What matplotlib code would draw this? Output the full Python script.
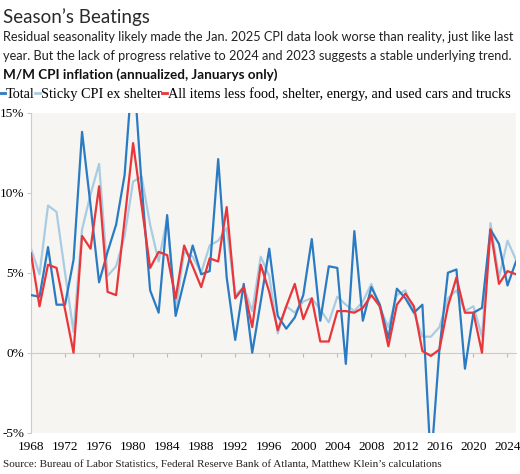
import numpy as np
import matplotlib
matplotlib.use('Agg')
import matplotlib.pyplot as plt

years = list(range(1968, 2026))

# M/M CPI, annualized, Januarys only
total = [3.6, 3.5, 6.6, 3.0, 3.0, 5.8, 13.8, 9.2, 4.4, 6.3,
         8.0, 11.1, 18.2, 10.5, 3.9, 2.5, 8.6, 2.3, 4.5, 6.7,
         4.9, 5.1, 12.1, 4.7, 0.8, 4.3, 0.0, 3.2, 6.5, 2.3,
         1.5, 2.2, 3.6, 7.1, 2.0, 5.4, 5.3, -0.7, 7.6, 2.0,
         4.1, 3.0, 0.9, 4.0, 3.4, 2.5, 3.0, -7.0, 0.2, 5.0,
         5.2, -1.0, 2.5, 2.8, 7.7, 6.8, 4.2, 5.7]
sticky = [6.5, 4.9, 9.2, 8.8, 5.0, 1.3, 7.7, 9.9, 11.8, 4.8,
          5.4, 7.3, 10.7, 11.0, 8.0, 5.7, 8.4, 2.7, 6.3, 6.0,
          5.0, 6.7, 7.0, 7.8, 3.6, 4.1, 2.6, 6.0, 4.8, 1.2,
          2.9, 2.5, 3.2, 3.4, 2.7, 1.9, 3.5, 3.0, 2.6, 3.2,
          4.3, 2.8, 1.6, 3.6, 3.9, 2.5, 1.0, 1.0, 1.6, 3.4,
          3.9, 2.6, 2.9, 1.0, 8.1, 4.7, 7.0, 5.8]
core_ex = [6.2, 2.9, 5.5, 5.3, 2.7, 0.0, 7.3, 6.5, 10.4, 3.8,
           3.6, 8.3, 13.1, 9.2, 5.3, 6.3, 6.1, 3.4, 6.7, 5.4,
           4.1, 5.9, 5.7, 9.1, 3.4, 4.1, 1.6, 5.5, 3.8, 1.4,
           2.9, 4.3, 2.1, 3.4, 0.7, 0.7, 2.6, 2.6, 2.5, 2.8,
           3.6, 2.9, 0.4, 3.0, 3.7, 2.9, 0.1, -0.2, 0.2, 2.9,
           4.7, 2.5, 2.5, 0.0, 7.7, 4.3, 5.1, 4.9]

labels = ['Total', 'Sticky CPI ex shelter',
          'All items less food, shelter, energy, and used cars and trucks']
colors = ['#2b7bc3', '#a9cce2', '#e8363b']

sans = ['Lato', 'DejaVu Sans']
serif = ['Liberation Serif', 'DejaVu Serif']

fig = plt.figure(figsize=(5.2, 4.74), dpi=100)
ax = fig.add_axes([31/520, 1-432.7/474, (516-31)/520, 320/474])
ax.set_facecolor('#f6f5f1')

ax.plot(years, sticky, color=colors[1], lw=1.6, zorder=3)
ax.plot(years, total, color=colors[0], lw=1.6, zorder=4)
ax.plot(years, core_ex, color=colors[2], lw=1.6, zorder=5)

ax.set_xlim(1968, 2025)
ax.set_ylim(-5, 15)

for s in ['top', 'right']:
    ax.spines[s].set_visible(False)
ax.spines['left'].set_color('#cccccc')
ax.spines['bottom'].set_color('#cccccc')
ax.spines['bottom'].set_position(('data', 0))
ax.spines['bottom'].set_zorder(2)

ax.set_yticks([-5, 0, 5, 10, 15])
ax.set_yticklabels(['-5%', '0%', '5%', '10%', '15%'], family=serif, fontsize=9.5)
ax.tick_params(axis='y', color='#cccccc', length=3, pad=2)

xt = list(range(1968, 2025, 4))
ax.set_xticks(xt)
ax.tick_params(axis='x', color='#bbbbbb', length=3, labelbottom=False)
sec = ax.secondary_xaxis(0)
sec.set_xticks(xt)
sec.set_xticklabels([str(y) for y in xt], family=serif, fontsize=9.5)
sec.tick_params(length=0, pad=6)
sec.spines['bottom'].set_visible(False)

fig.text(0.006, 1-17/474, 'Season\u2019s Beatings', family=sans, fontsize=13.5,
         va='center', color='#2a2a2a')
fig.text(0.006, 1-37/474,
         'Residual seasonality likely made the Jan. 2025 CPI data look worse than reality, just like last',
         family=sans, fontsize=9.2, va='center', color='#222222')
fig.text(0.006, 1-56/474,
         'year. But the lack of progress relative to 2024 and 2023 suggests a stable underlying trend.',
         family=sans, fontsize=9.2, va='center', color='#222222')
fig.text(0.006, 1-75/474, 'M/M CPI inflation (annualized, Januarys only)',
         family=sans, fontsize=9.7, weight='bold', va='center', color='#111111')

handles = [plt.Line2D([], [], color=c, lw=2) for c in colors]
fig.legend(handles, labels, loc='center left', bbox_to_anchor=(0.0, 1-94/474),
           ncol=3, frameon=False, handlelength=0.35, handletextpad=0.05,
           columnspacing=0.05, borderpad=0, borderaxespad=0,
           prop={'family': serif, 'size': 10.25})

fig.text(0.006, 1-465/474,
         'Source: Bureau of Labor Statistics, Federal Reserve Bank of Atlanta, Matthew Klein\u2019s calculations',
         family=serif, fontsize=8, va='center', color='#222222')

fig.savefig('out.png', dpi=100)
